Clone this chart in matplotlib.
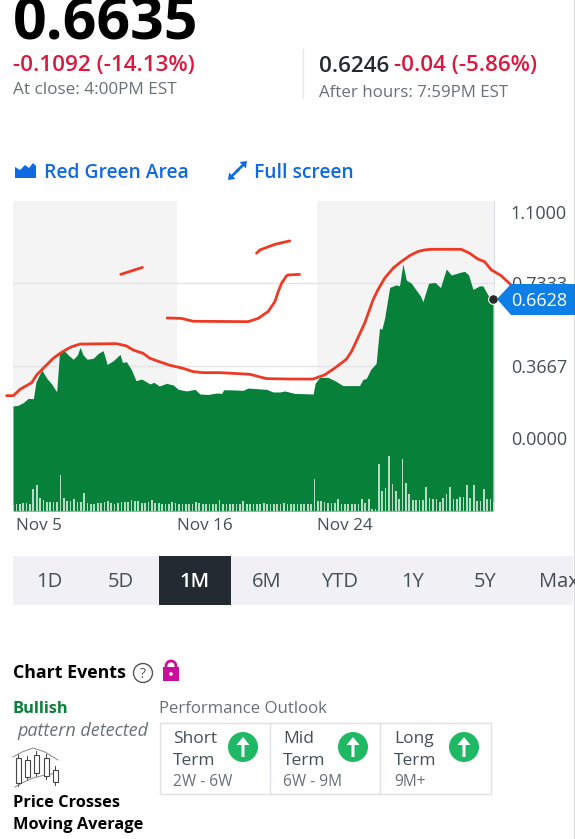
import matplotlib
matplotlib.use('Agg')
import matplotlib.pyplot as plt
from matplotlib.patches import Rectangle, Polygon, Circle, FancyArrow

plt.rcParams['font.family'] = ['Open Sans', 'DejaVu Sans']

price_x = [0, 1.5, 3, 4.5, 6, 6.8, 8.5, 10, 11.4, 12.9, 13.7, 14.8, 16.3, 17.8, 19, 19.8, 20.7, 21.9, 23.7, 25.2,
           26.6, 27.8, 29.6, 31.6, 32.3, 33.5, 35, 36.3, 38, 40.4, 41.6, 43.2, 45.3, 47.3, 48.8, 51.2, 53.7, 55.2,
           57.6, 60.1, 61.6, 62.2, 65, 67.9, 69.4, 71.9, 74.8, 76.8, 78.8, 80.2, 83.2, 88.6, 89.2, 90.5, 93, 95,
           97.4, 102.3, 103.3, 104.3, 105.6, 107.2, 108.2, 108.9, 109.7, 111.2, 113.1, 114.1, 115.1, 116.1, 117.6,
           119, 120.3, 121, 122.7, 124.6, 126.2, 127.9, 129.4, 131.8, 133.3, 134.5, 135.8, 137.7, 138.7, 140.2, 141.7]
price = [.156, .159, .172, .193, .191, .274, .331, .290, .263, .225, .412, .431, .404, .383, .404, .441, .404, .383, .388, .412,
         .425, .358, .376, .407, .368, .371, .331, .279, .287, .263, .271, .253, .266, .258, .237, .229, .237, .214,
         .212, .219, .217, .235, .234, .232, .243, .240, .237, .224, .224, .229, .217, .214, .266, .295, .295, .279,
         .255, .255, .285, .290, .334, .363, .534, .529, .582, .733, .745, .740, .847, .769, .753,
         .720, .691, .663, .753, .757, .732, .822, .793, .805, .811, .793, .723, .740, .740, .696, .675]

# volume, one bar per step
volume = [.18, .20, .22, .24, .24, .22, .65, .77, .40, .32, .28, .27, .27, .27, 1.08, .40, .30, .30, .35, .28,
          .28, .55, .24, .22, .22, .24, .24, .26, .30, .24, .22, .24, .28, .28, .26, .33, .30, .30, .24, .24,
          .28, .32, .24, .24, .22, .22, .22, .28, .24, .22, .22, .22, .22, .22, .28, .24, .22, .22, .22, .20,
          .20, .32, .22, .22, .20, .20, .20, .20, .30, .22, .22, .20, .20, .20, .24, .22, .20, .20, .20, .20,
          .25, .22, .20, .20, .20, .20, .20, .20, .20, .97, .30, .30, .28, .25, .25, .25, .35, .22, .20, .20,
          .20, .20, .20, .35, .25, .35, .05, .05, 1.42, .60, .70, 1.65, .80, .60, .35, 1.55, .85, .50, .33, .33,
          .33, .33, .73, .40, .35, .35, .28, .38, .52, .72, .35, .35, .42, .42, .77, .38, .77, .30, .30, .65,
          .35, .35, .28]

# hand drawn red lines
ma_x = [-1.9, 0.1, 2.1, 5.5, 7, 8.9, 11.9, 13.9, 15.8, 17.3, 19.8, 30.6, 33.5, 35.5, 38.4, 40.4, 42.4, 46.3, 50.2, 53.2,
        56.1, 61.1, 69.9, 74.8, 81.7, 88.6, 92, 94.9, 98.4, 99.9, 101.3, 103.8, 106.3, 107.7, 109.7, 112.2, 114.6, 117.1,
        119.5, 121.5, 123.5, 132.3, 134.8, 137.2, 139.2, 141.2, 144.1, 147.6]
ma_y = [.206, .206, .237, .269, .307, .339, .388, .412, .431, .444, .457, .459, .448, .428, .412, .388, .376, .354, .339, .323,
        .318, .318, .310, .289, .287, .287, .307, .339, .383, .420, .469, .558, .672, .720, .777, .826, .858, .887,
        .907, .915, .918, .918, .899, .871, .858, .818, .790, .736]
stroke1_x = [31.8, 38.2]
stroke1_y = [.796, .830]
stroke2_x = [71.9, 72.9, 77.3, 81.7]
stroke2_y = [.899, .915, .942, .959]
stroke3_x = [45.5, 49.7, 53.2, 69.4, 72.4, 75.3, 77.3, 78.3, 79.3, 80.7, 81.2, 84.6]
stroke3_y = [.584, .582, .568, .566, .582, .615, .663, .712, .753, .788, .793, .796]

y_ticks = [1.1, 0.754, 0.350, 0.0]
y_labels = ['1.1000', '0.7333', '0.3667', '0.0000']
x_ticks = [0.8, 48.4, 89.7]
x_labels = ['Nov 5', 'Nov 16', 'Nov 24']
last_price = '0.6628'
tabs = ['1D', '5D', '1M', '6M', 'YTD', '1Y', '5Y', 'Max']
tab_x = [49, 121, 195, 267, 340, 413, 485, 559]

W, H = 575, 839
green = '#07803a'
red = '#ee3a24'
blue = '#0f69e0'
fig = plt.figure(figsize=(W/100, H/100), dpi=100)

############## chart ################
ax = fig.add_axes([13/W, 1-511/H, 481/W, 310/H])
ax.set_xlim(0, 142)
ax.set_ylim(-0.355, 1.153)
ax.axvspan(0, 48.4, color='#f4f4f5', lw=0, zorder=0)
ax.axvspan(89.7, 142, color='#f4f4f5', lw=0, zorder=0)
for v in y_ticks[1:3]:
    ax.axhline(v, color='#e4e4e6', lw=1, zorder=1)
ax.fill_between(price_x, price, -0.355, color=green, lw=0, zorder=2)

vol_ax = ax.twinx()
vol_ax.set_ylim(0, 9.3)
vol_ax.bar(range(len(volume)), volume, width=0.5, color='#b4dcc2', lw=0)
vol_ax.axis('off')

# twinx moves the ticks to the left, put them back
ax.set_yticks(y_ticks)
ax.set_yticklabels(y_labels, fontsize=13, color='#464e56')
ax.yaxis.tick_right()
ax.tick_params(axis='y', length=0, pad=12)
ax.set_xticks(x_ticks)
ax.set_xticklabels(x_labels, fontsize=12.3, color='#464e56', ha='left')
ax.tick_params(axis='x', length=0, pad=5)
for s in ['top', 'left', 'bottom']:
    ax.spines[s].set_visible(False)
ax.spines['right'].set_color('#e0e0e6')
for line_x, line_y in [(ma_x, ma_y), (stroke1_x, stroke1_y), (stroke2_x, stroke2_y), (stroke3_x, stroke3_y)]:
    ax.plot(line_x, line_y, color=red, lw=2.0, zorder=6, clip_on=False, solid_capstyle='round', solid_joinstyle='round')
ax.plot([141.7], [.675], 'o', color='#26282a', ms=7, mec='white', mew=0.8, zorder=7, clip_on=False)

############## page around the chart ################
ui = fig.add_axes([0, 0, 1, 1], facecolor='none')
ui.set_xlim(0, W)
ui.set_ylim(H, 0)
ui.axis('off')
ui.set_zorder(5)


def txt(x, y, s, size, color='#000000', **kw):
    kw.setdefault('va', 'center')
    return ui.text(x, y, s, fontsize=size, color=color, **kw)


txt(13, 39, '0.6635', 42.5, weight='bold', va='baseline')
txt(13, 66, '-0.1092 (-14.13%)', 16.2, '#e0173c', weight='semibold')
txt(13, 90, 'At close: 4:00PM EST', 12.3, '#6a7077')
ui.plot([303, 303], [49, 98], color='#e6e6ea', lw=1)
txt(319, 66, '0.6246', 16.2, '#232a31', weight='semibold')
txt(394, 66, '-0.04 (-5.86%)', 16.2, '#e0173c', weight='semibold')
txt(319, 93, 'After hours: 7:59PM EST', 12.2, '#6a7077')

# area icon
ui.add_patch(Polygon([(15, 178), (15, 167), (20, 170), (25, 165), (29, 168), (33, 163), (36, 166), (36, 178)],
                     color=blue, lw=0))
txt(44, 173, 'Red Green Area', 13.9, blue, weight='semibold')
# full screen icon
ui.add_patch(FancyArrow(236, 172, 11, -11, width=2.6, head_width=9, head_length=6, color=blue, lw=0,
                        length_includes_head=True))
ui.add_patch(FancyArrow(239, 169, -11, 11, width=2.6, head_width=9, head_length=6, color=blue, lw=0,
                        length_includes_head=True))
txt(254, 173, 'Full screen', 13.9, blue, weight='semibold')

# value tag
ui.add_patch(Polygon([(497, 299), (511, 284), (575, 284), (575, 315), (511, 315)], color='#0f7fe8', lw=0))
txt(511, 301, last_price, 13, 'white')

# range tabs
ui.add_patch(Rectangle((13, 556), 560, 49, color='#f0f0f5', lw=0))
ui.add_patch(Rectangle((159, 556), 72, 49, color='#232a31', lw=0))
for name, cx in zip(tabs, tab_x):
    selected = name == '1M'
    txt(cx, 582, name, 14.5, 'white' if selected else '#464e56', ha='center',
        weight='semibold' if selected else 'normal')

# chart events
txt(13, 673, 'Chart Events', 12.8, weight='bold')
ui.add_patch(Circle((143, 673), 9.5, fc='none', ec='#555555', lw=1))
txt(143, 674, '?', 10, '#555555', ha='center')
ui.add_patch(Rectangle((163, 667), 16, 14, color='#c8109b', lw=0))
ui.add_patch(Circle((171, 666), 5, fc='none', ec='#c8109b', lw=2))
ui.add_patch(Circle((171, 674), 1.8, color='white', lw=0))
txt(13, 709, 'Bullish', 11.8, green, weight='bold')
txt(17, 731, 'pattern detected', 13, '#6a7077', style='italic')
txt(159, 709, 'Performance Outlook', 12.1, '#6a7077')

# candles icon
for cx, top, bot in [(18, 758, 783), (27, 760, 777), (36, 755, 773), (46, 758, 776), (55, 770, 782)]:
    ui.plot([cx, cx], [top-4, bot+3], color='#444444', lw=0.7)
    ui.add_patch(Rectangle((cx-2.5, top), 5, bot-top, fc='white', ec='#444444', lw=0.8, zorder=3))
ui.plot([13, 22, 33, 45, 58], [757, 752, 748, 752, 760], color='#888888', lw=0.7)
ui.plot([15, 24, 33, 45, 58], [787, 782, 778, 775, 773], color='#888888', lw=0.7)

txt(13, 803, 'Price Crosses', 11.8, weight='bold')
txt(13, 825, 'Moving Average', 11.8, weight='bold')

ui.add_patch(Rectangle((160, 723), 331, 71, fc='none', ec='#e0e0e6', lw=1))
for bx in [270, 380]:
    ui.plot([bx, bx], [723, 794], color='#e0e0e6', lw=1)
box_x = [173, 283, 394]
box_top = ['Short', 'Mid', 'Long']
box_sub = ['2W - 6W', '6W - 9M', '9M+']
for bx, top, sub in zip(box_x, box_top, box_sub):
    txt(bx, 739, top, 12.5, '#464e56')
    txt(bx, 761, 'Term', 12.5, '#464e56')
    txt(bx, 782, sub, 11.2, '#6a7077')
    cx = bx + 70
    ui.add_patch(Circle((cx, 747), 15, color='#1fb864', lw=0))
    ui.add_patch(FancyArrow(cx, 757, 0, -20, width=3, head_width=13, head_length=8, color='white', lw=0,
                            length_includes_head=True, zorder=4))

# screenshot edge
ui.plot([574.5, 574.5], [0, H], color='#444444', lw=1, zorder=8)

plt.savefig('out.png')
